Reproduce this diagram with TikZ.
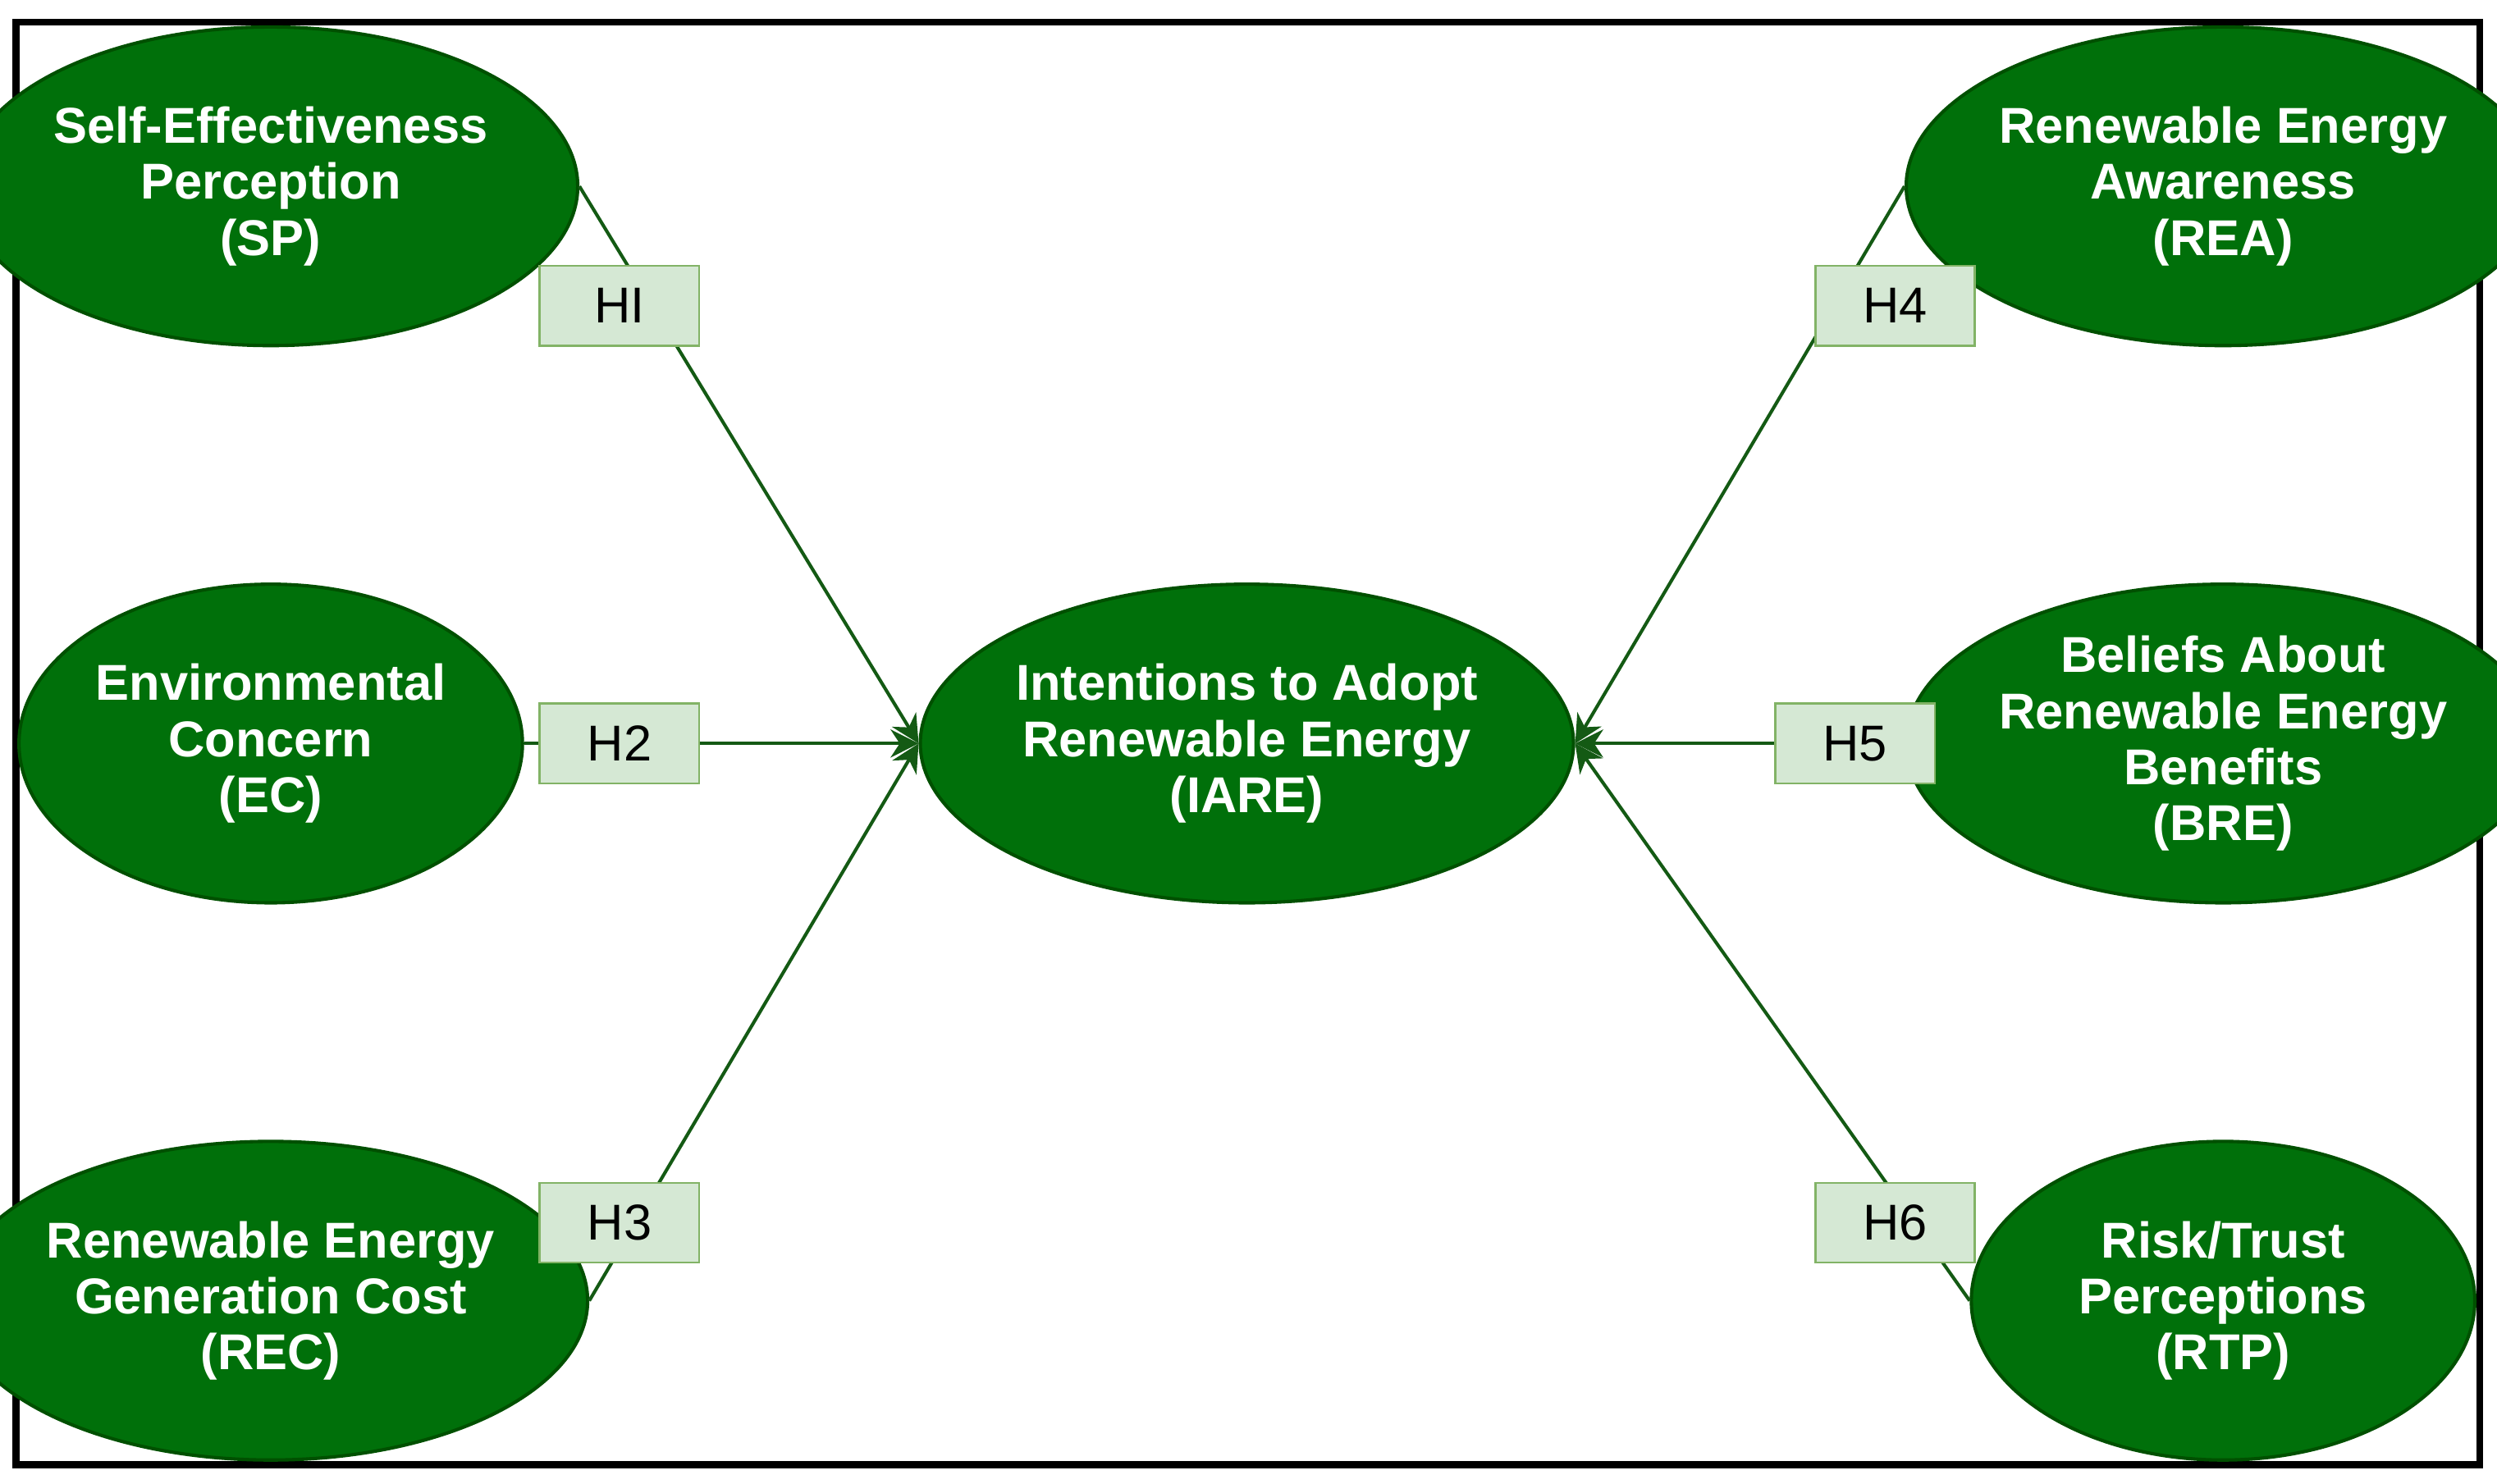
\documentclass[tikz,border=0pt]{standalone}
\usepackage{fontspec}
\setmainfont{Liberation Sans}
\usetikzlibrary{arrows.meta,shapes.geometric}
\definecolor{ellfill}{RGB}{0,112,10}
\definecolor{ellline}{RGB}{0,80,0}
\definecolor{boxfill}{RGB}{213,232,212}
\definecolor{boxline}{RGB}{130,179,102}
\definecolor{lnk}{RGB}{20,90,20}
\begin{document}
\begin{tikzpicture}[x=0.01cm,y=-0.01cm,
  ell/.style={ellipse,draw=ellline,fill=ellfill,line width=0.6pt,minimum width=3.16cm,minimum height=2cm,inner sep=0pt,text=white,align=center,font=\fontsize{9}{10}\selectfont\bfseries},
  hbox/.style={draw=boxline,fill=boxfill,minimum width=1cm,minimum height=0.5cm,inner sep=0pt,font=\fontsize{9}{10}\selectfont},
  link/.style={draw=lnk,line width=0.6pt,-{Stealth[length=5pt,width=5pt]}}]
\useasboundingbox (0,0) rectangle (1568,932);
\draw[line width=1.2pt] (10,14) rectangle (1557,920);
\node[ell] (SP) at (170,117) {Self-Effectiveness\\Perception\\(SP)};
\node[ell] (EC) at (170,467) {Environmental\\Concern\\(EC)};
\node[ell] (REC) at (170,817) {Renewable Energy\\Generation Cost\\(REC)};
\node[ell] (IARE) at (783,467) {Intentions to Adopt\\Renewable Energy\\(IARE)};
\node[ell] (REA) at (1396,117) {Renewable Energy\\Awareness\\(REA)};
\node[ell] (BRE) at (1396,467) {Beliefs About\\Renewable Energy\\Benefits\\(BRE)};
\node[ell] (RTP) at (1396,817) {Risk/Trust\\Perceptions\\(RTP)};
\draw[link] (SP.east) -- (IARE.west);
\draw[link] (EC.east) -- (IARE.west);
\draw[link] (REC.east) -- (IARE.west);
\draw[link] (REA.west) -- (IARE.east);
\draw[link] (BRE.west) -- (IARE.east);
\draw[link] (RTP.west) -- (IARE.east);
\node[hbox] (H1) at (389,192) {HI};
\node[hbox] (H2) at (389,467) {H2};
\node[hbox] (H3) at (389,768) {H3};
\node[hbox] (H4) at (1190,192) {H4};
\node[hbox] (H5) at (1165,467) {H5};
\node[hbox] (H6) at (1190,768) {H6};
\end{tikzpicture}
\end{document}
